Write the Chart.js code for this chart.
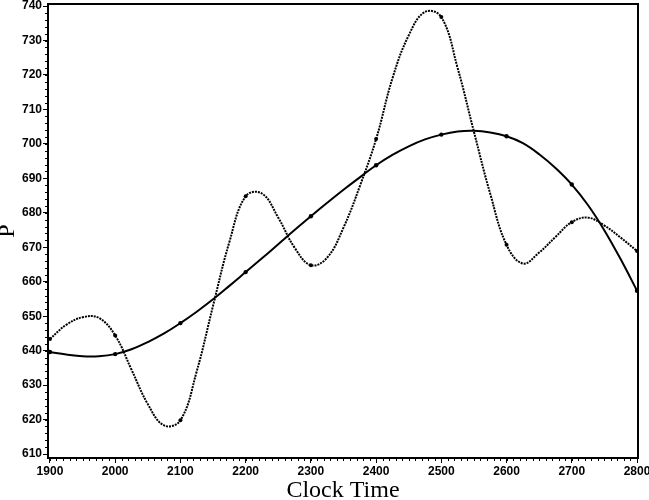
<!DOCTYPE html>
<html>
<head>
<meta charset="utf-8">
<script src="https://cdn.jsdelivr.net/npm/chart.js@4"></script>
<style>
  html, body { margin: 0; padding: 0; background: #fff; }
  #wrap { width: 649px; height: 500px; }
</style>
</head>
<body>
<div id="wrap"><canvas id="chart"></canvas></div>
<script>
// clock time samples (every 25)
const clockTimes = [
  1900, 1925, 1950, 1975, 2000, 2025, 2050, 2075, 2100, 2125, 2150, 2175,
  2200, 2225, 2250, 2275, 2300, 2325, 2350, 2375, 2400, 2425, 2450, 2475,
  2500, 2525, 2550, 2575, 2600, 2625, 2650, 2675, 2700, 2725, 2750, 2775, 2800
];
// dotted curve (observed P)
const observedP = [
  643.4, 647.5, 649.7, 649.5, 644.4, 634.5, 624.5, 618.3, 619.8, 634.0, 653.0, 671.5,
  684.8, 685.6, 678.6, 669.9, 664.8, 667.0, 675.7, 687.7, 701.4, 719.0, 731.5, 738.3,
  736.8, 722.0, 703.5, 685.5, 670.7, 665.3, 668.5, 673.0, 677.3, 678.6, 676.3, 672.8, 668.9
];
// solid curve (fitted P)
const fittedP = [
  639.6, 638.9, 638.4, 638.4, 639.0, 640.4, 642.5, 645.0, 648.0, 651.3, 654.9, 658.8,
  662.8, 666.8, 670.9, 675.0, 679.0, 682.9, 686.7, 690.3, 693.8, 696.8, 699.3, 701.3,
  702.7, 703.6, 703.8, 703.3, 702.2, 700.2, 697.0, 693.0, 688.2, 682.2, 674.9, 666.5, 657.4
];
const xTicks = [1900, 2000, 2100, 2200, 2300, 2400, 2500, 2600, 2700, 2800];
const yTicks = [610, 620, 630, 640, 650, 660, 670, 680, 690, 700, 710, 720, 730, 740];

const toPoints = vals => clockTimes.map((t, i) => ({ x: t, y: vals[i] }));
const markerRadius = r => ctx => (xTicks.includes(ctx.raw.x) ? r : 0);

// frame box + minor ticks
const framePlugin = {
  id: 'frame',
  afterDraw(chart) {
    const { ctx, chartArea: a, scales: { x, y } } = chart;
    ctx.save();
    ctx.strokeStyle = '#000';
    ctx.lineWidth = 1;
    ctx.beginPath();
    for (let v = 1900; v <= 2800; v += 10) {
      const px = Math.round(x.getPixelForValue(v)) + 0.5;
      ctx.moveTo(px, a.bottom);
      ctx.lineTo(px, a.bottom + 3);
    }
    for (let v = 610; v <= 740; v += 2) {
      const py = Math.round(y.getPixelForValue(v)) + 0.5;
      ctx.moveTo(a.left, py);
      ctx.lineTo(a.left - 3, py);
    }
    ctx.stroke();
    ctx.lineWidth = 2;
    ctx.strokeRect(a.left, a.top, a.right - a.left, a.bottom - a.top);
    ctx.restore();
  }
};

new Chart(document.getElementById('chart'), {
  type: 'line',
  data: {
    datasets: [
      {
        label: 'fitted',
        data: toPoints(fittedP),
        borderColor: '#000',
        backgroundColor: '#000',
        borderWidth: 2,
        tension: 0.4,
        pointRadius: markerRadius(2.2),
        pointBorderWidth: 0
      },
      {
        label: 'observed',
        data: toPoints(observedP),
        borderColor: '#000',
        backgroundColor: '#000',
        borderWidth: 2,
        borderDash: [2, 1],
        tension: 0.4,
        pointRadius: markerRadius(2),
        pointBorderWidth: 0
      }
    ]
  },
  options: {
    responsive: true,
    maintainAspectRatio: false,
    animation: false,
    layout: { padding: { top: 2, right: 11, left: 0, bottom: 0 } },
    plugins: { legend: { display: false }, tooltip: { enabled: false } },
    scales: {
      x: {
        type: 'linear',
        min: 1897,
        max: 2801.5,
        afterBuildTicks: s => { s.ticks = xTicks.map(v => ({ value: v })); },
        afterFit: s => { s.height = 42; s.paddingLeft = 0; s.paddingRight = 0; },
        grid: { drawOnChartArea: false, tickLength: 5, tickColor: '#000', tickWidth: 1 },
        border: { display: true, color: '#000', width: 2 },
        ticks: {
          color: '#000',
          padding: 1,
          maxRotation: 0,
          callback: v => String(v),
          font: { family: 'Liberation Sans', size: 12, weight: 'bold' }
        },
        title: {
          display: true,
          text: 'Clock Time',
          color: '#000',
          padding: 0,
          font: { family: 'Liberation Serif', size: 24, lineHeight: 0.75 }
        }
      },
      y: {
        min: 608.85,
        max: 740.6,
        afterBuildTicks: s => { s.ticks = yTicks.map(v => ({ value: v })); },
        afterFit: s => { s.width = 48; s.paddingTop = 0; s.paddingBottom = 0; },
        grid: { drawOnChartArea: false, tickLength: 5, tickColor: '#000', tickWidth: 1 },
        border: { display: true, color: '#000', width: 2 },
        ticks: {
          color: '#000',
          padding: 1,
          callback: v => String(v),
          font: { family: 'Liberation Sans', size: 12, weight: 'bold' }
        },
        title: {
          display: true,
          text: 'P',
          color: '#000',
          padding: 0,
          font: { family: 'Liberation Serif', size: 24, lineHeight: 0.625 }
        }
      }
    }
  },
  plugins: [framePlugin]
});
</script>
</body>
</html>
